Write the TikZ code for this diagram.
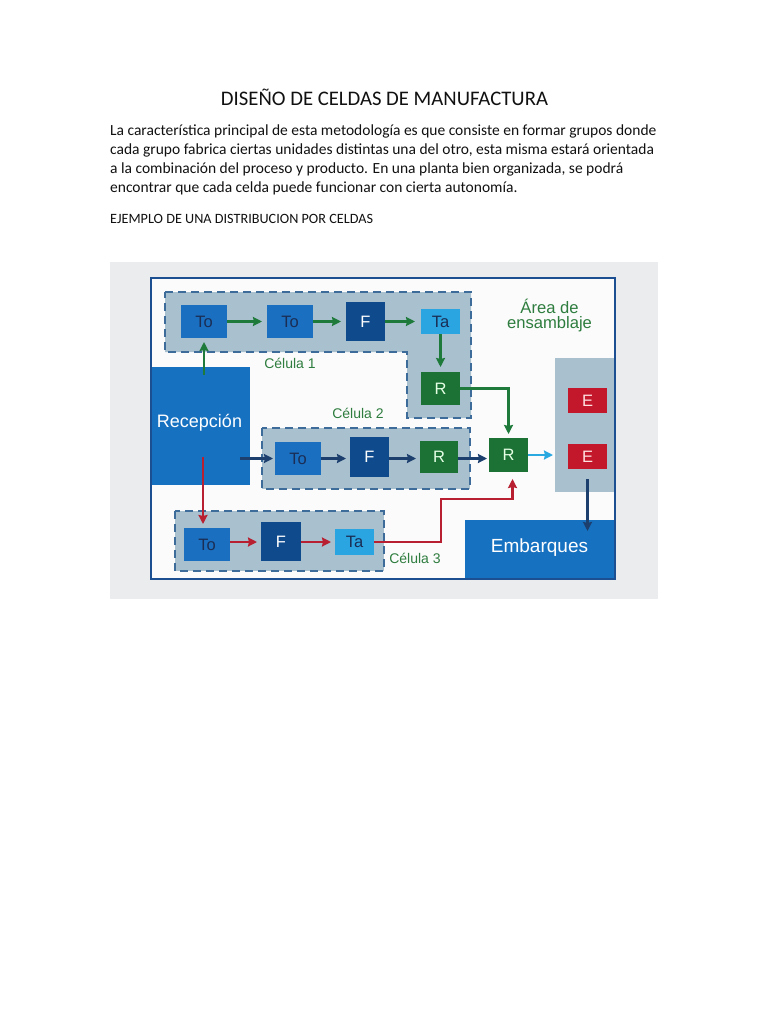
\documentclass[tikz,border=0pt]{standalone}
\usepackage{fontspec}
\setmainfont{Carlito}
\newfontfamily\arialf{Liberation Sans}
\usetikzlibrary{calc,arrows.meta}
\definecolor{bggrey}{HTML}{EAECEE}
\definecolor{framebl}{HTML}{1B4F91}
\definecolor{cellgrey}{HTML}{A9C0CE}
\definecolor{celldash}{HTML}{3D6B9A}
\definecolor{tobl}{HTML}{1A6FC0}
\definecolor{fbl}{HTML}{0E4A8C}
\definecolor{tabl}{HTML}{2AA5E2}
\definecolor{rgr}{HTML}{1C7235}
\definecolor{ered}{HTML}{C3182B}
\definecolor{recbl}{HTML}{1771C1}
\definecolor{darktxt}{HTML}{1A2E55}
\definecolor{garr}{HTML}{1E7A3A}
\definecolor{narr}{HTML}{1C3F6E}
\definecolor{rarr}{HTML}{B81F30}
\definecolor{carr}{HTML}{2AA8E0}
\definecolor{lblgr}{HTML}{2E7D3E}
\definecolor{bodytxt}{HTML}{111111}
\tikzset{
  pbox/.style={inner sep=0pt, outer sep=0pt, font=\arialf\fontsize{16.5}{16.5}\selectfont},
  tobox/.style={pbox, fill=tobl, text=darktxt, minimum width=46pt, minimum height=33pt},
  fbox/.style={pbox, fill=fbl, text=white, minimum width=39pt, minimum height=39pt},
  tabox/.style={pbox, fill=tabl, text=darktxt, minimum width=39pt, minimum height=25pt},
  rbox/.style={pbox, fill=rgr, text=white!90!green, minimum width=39pt, minimum height=33pt},
  ebox/.style={pbox, fill=ered, text=white!88!red, minimum width=39pt, minimum height=25pt},
  bigbox/.style={inner sep=0pt, outer sep=0pt, fill=recbl, text=white, font=\arialf\fontsize{18}{18}\selectfont},
  cell/.style={fill=cellgrey, draw=celldash, line width=1.6pt, dash pattern=on 8pt off 5pt},
  flow/.style={line width=2.4pt, -{Stealth[length=9pt,width=9pt,inset=1pt]}},
  garrow/.style={flow, draw=garr},
  narrow/.style={flow, draw=narr},
  rarrow/.style={flow, draw=rarr},
  carrow/.style={flow, draw=carr},
  cellbl/.style={text=lblgr, font=\arialf\fontsize{14}{14}\selectfont, inner sep=0pt},
  bodyl/.style={anchor=base west, inner sep=0pt, text=bodytxt, font=\fontsize{15.5}{15.5}\selectfont},
}
\begin{document}
\begin{tikzpicture}[x=1pt,y=-1pt]
\useasboundingbox (0,0) rectangle (768,1024);
\fill[white] (0,0) rectangle (768,1024);
% texts
\node[anchor=base, inner sep=0pt, text=bodytxt, font=\fontsize{20.7}{20.7}\selectfont] (title) at (384.5,106) {DISEÑO DE CELDAS DE MANUFACTURA};
\node[bodyl] (l1) at (110,136) {La característica principal de esta metodología es que consiste en formar grupos donde};
\node[bodyl] (l2) at (110,155) {cada grupo fabrica ciertas unidades distintas una del otro, esta misma estará orientada};
\node[bodyl] (l3) at (110,174) {a la combinación del proceso y producto. En una planta bien organizada, se podrá};
\node[bodyl] (l4) at (110,193) {encontrar que cada celda puede funcionar con cierta autonomía.};
\node[bodyl, font=\fontsize{14.2}{14.2}\selectfont] (l5) at (110,224) {EJEMPLO DE UNA DISTRIBUCION POR CELDAS};
% picture background
\fill[bggrey] (110,262) rectangle (658,599);
\fill[white!80!bggrey] (151,278) rectangle (615,579);
% cells
\path[cell] (165,292) -- (471,292) -- (471,418) -- (407,418) -- (407,352) -- (165,352) -- cycle;
\path[cell] (262,428) rectangle (470,489);
\path[cell] (175,511) rectangle (384,571);
% big blocks
\fill[cellgrey] (555,358) rectangle (615,492);
\coordinate (panelw) at (555,425);
\node[bigbox, minimum width=99pt, minimum height=118pt] (rec) at (200.5,426) {};
\node[text=white, font=\arialf\fontsize{18}{18}\selectfont, inner sep=0pt] (rect) at (199.5,423) {Recepción};
\node[bigbox, minimum width=150pt, minimum height=59pt] (emb) at (540,549.5) {};
\node[text=white, font=\arialf\fontsize{19}{19}\selectfont, inner sep=0pt] (embt) at (539.5,548) {Embarques};
% frame
\draw[framebl, line width=2pt] (151,278) rectangle (615,579);
% cell 1
\node[tobox] (to1) at (204,321.5) {To};
\node[tobox] (to2) at (290,321.5) {To};
\node[fbox] (f1) at (365.5,321.5) {F};
\node[tabox] (ta1) at (440.5,321.5) {Ta};
\node[rbox] (r1) at (440.5,388.5) {R};
% cell 2
\node[tobox] (to3) at (298,458.5) {To};
\node[fbox, minimum height=40pt] (f2) at (369.5,457) {F};
\node[rbox, minimum width=38pt, minimum height=32pt] (r2) at (439,457) {R};
\node[rbox, minimum height=34pt] (r3) at (508.5,455) {R};
% cell 3
\node[tobox] (to4) at (207,544.5) {To};
\node[fbox, minimum width=40pt] (f3) at (281,541.5) {F};
\node[tabox, minimum height=26pt] (ta3) at (354.5,542) {Ta};
% E
\node[ebox] (e1) at (587.5,400.5) {E};
\node[ebox] (e2) at (587.5,456.5) {E};
% labels
\node[cellbl] (c1) at (290,363) {Célula 1};
\node[cellbl] (c2) at (358,413) {Célula 2};
\node[cellbl] (c3) at (415,558) {Célula 3};
\node[text=lblgr, font=\arialf\fontsize{16.6}{15.5}\selectfont, inner sep=0pt, align=center] (asm) at (549.5,315.5) {Área de\\ensamblaje};
% arrows cell 1
\draw[garrow] ($(rec.north -| to1.south)+(0,8)$) -- ($(to1.south)+(0,4)$);
\draw[garrow, shorten >=5pt] (to1.east) -- (to2.west);
\draw[garrow, shorten >=5pt] (to2.east) -- (f1.west);
\draw[garrow, shorten >=6pt] (f1.east) -- (ta1.west);
\draw[garrow, shorten >=5pt] (ta1.south) -- (r1.north);
\draw[garrow, shorten >=4pt] (r1.east) -| (r3.north);
% arrows cell 2
\draw[narrow, shorten >=2pt] ($(rec.east |- to3.west)+(-10,0)$) -- (to3.west);
\draw[narrow, shorten >=4pt] (to3.east) -- (to3.east -| f2.west);
\draw[narrow, shorten >=4pt] (f2.east |- to3.east) -- (to3.east -| r2.west);
\draw[narrow, shorten >=2pt] (r2.east |- to3.east) -- (to3.east -| r3.west);
\draw[carrow, shorten >=2pt] (r3.east) -- (panelw |- r3.east);
% arrows cell 3
\draw[rarrow, shorten >=4pt] ($(to4.north)+(-4,-71)$) -- ($(to4.north)+(-4,0)$);
\draw[rarrow, shorten >=4pt] (to4.east |- ta3.west) -- (f3.west |- ta3.west);
\draw[rarrow, shorten >=4pt] (f3.east |- ta3.west) -- (ta3.west);
\draw[rarrow, shorten >=7pt] (ta3.east) -- ($(ta3.east)+(67,0)$) |- ($(r3.south)+(4,27)$) -- ($(r3.south)+(4,0)$);
% E to Embarques
\draw[narrow] ($(e2.south)+(0,10)$) -- ($(emb.north -| e2.south)+(0,11)$);
\end{tikzpicture}
\end{document}
